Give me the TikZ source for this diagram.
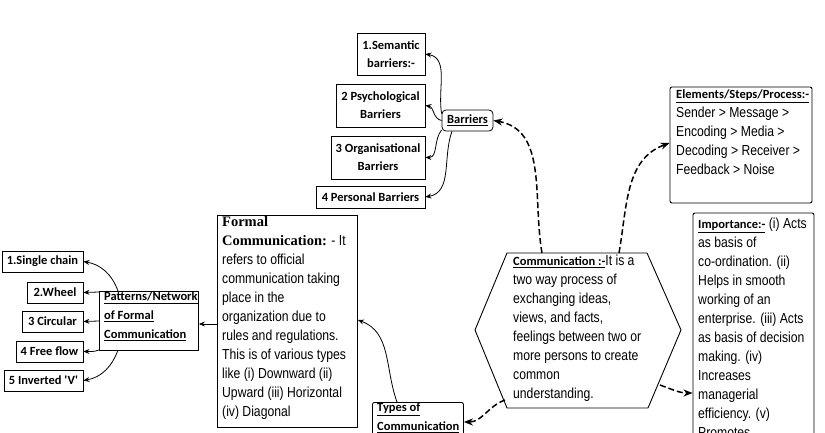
\documentclass[tikz,border=0pt]{standalone}
\usepackage{fontspec}
\setmainfont{Liberation Sans}[FakeStretch=0.84]
\newfontfamily\lbl{Carlito}
\newfontfamily\ser{Liberation Serif}
\usetikzlibrary{arrows.meta}
\begin{document}
\begin{tikzpicture}[x=1pt,y=-1pt,
  lab/.style={draw,line width=0.8pt,font=\lbl\bfseries\fontsize{12.5}{18}\selectfont,align=center,inner sep=1pt},
  body/.style={font=\fontsize{14.5}{19}\selectfont,align=left,anchor=north west,inner sep=0pt},
  hd/.style={font=\lbl\bfseries\fontsize{12.5}{19}\selectfont},
  sol/.style={-{Stealth[length=6pt,width=5pt]},line width=0.8pt},
  dsh/.style={-{Stealth[length=9pt,width=7pt]},line width=1.5pt,dash pattern=on 6pt off 3pt}]
\useasboundingbox (0,0) rectangle (825,433);
\clip (0,0) rectangle (825,433);
% barriers
\node[lab,minimum width=68,minimum height=42] (sem) at (391,54) {1.Semantic\\barriers:-};
\node[lab,minimum width=89,minimum height=43] (psy) at (380.5,105.5) {2 Psychological\\Barriers};
\node[lab,minimum width=94,minimum height=43] (org) at (378,157.5) {3 Organisational\\Barriers};
\node[lab,minimum width=109,minimum height=22] (per) at (370.5,197) {4 Personal Barriers};
\node[lab,rounded corners=4pt,minimum width=51,minimum height=21] (bar) at (467.5,120.5) {\underline{Barriers}};
\draw[sol] (bar.165) to[out=100,in=-10] (sem.east);
\draw[sol] (bar.west) to[out=170,in=-10] (psy.east);
\draw[sol] (bar.200) to[out=230,in=0] (org.east);
\draw[sol] (bar.215) to[out=250,in=10] (per.east);
% elements
\node[draw,line width=0.9pt,rounded corners=2pt,minimum width=142,minimum height=116] (ele) at (741,145) {};
\node[body] (elet) at (676,90) {{\lbl\bfseries\fontsize{12.5}{19}\selectfont\underline{Elements/Steps/Process:-}}\\Sender > Message >\\Encoding > Media >\\Decoding > Receiver >\\Feedback > Noise};
% importance
\node[draw,line width=0.9pt,rounded corners=2pt,minimum width=121,minimum height=240] (imp) at (753.5,333) {};
\node[body] (impt) at (698,218) {{\lbl\bfseries\fontsize{12.5}{19}\selectfont\underline{Importance:-}} (i) Acts\\as basis of\\co-ordination. (ii)\\Helps in smooth\\working of an\\enterprise. (iii) Acts\\as basis of decision\\making. (iv)\\Increases\\managerial\\efficiency. (v)\\Promotes};
% hexagon
\coordinate (h1) at (507,253);\coordinate (h2) at (647,253);\coordinate (h3) at (681,330);
\coordinate (h4) at (648,408);\coordinate (h5) at (507,408);\coordinate (h6) at (475,330);
\draw[line width=0.9pt] (h1)--(h2)--(h3)--(h4)--(h5)--(h6)--cycle;
\node[body] (com) at (513,255) {{\lbl\bfseries\fontsize{12.5}{19}\selectfont\underline{Communication :-}}It is a\\two way process of\\exchanging ideas,\\views, and facts,\\feelings between two or\\more persons to create\\common\\understanding.};
\coordinate (ht1) at (542,253);\coordinate (ht2) at (619,253);
\coordinate (hr) at (660,385);\coordinate (hl) at (505,400);
\draw[dsh] (ht1) to[out=100,in=-10] (bar.east);
\draw[dsh] (ht2) to[out=80,in=200] (ele.west |- 0,143);
\draw[dsh] (hr) to[out=-20,in=180] (imp.west |- 0,393);
% types
\node[draw,line width=0.9pt,rounded corners=2pt,minimum width=91,minimum height=40,anchor=north west] (typ) at (372,402) {};
\node[body,hd] (typt) at (377,403) {\underline{Types of}\\\underline{Communication}};
\draw[dsh] (hl) to[out=200,in=0] (typ.east |- 0,422);
% formal
\node[draw,line width=0.9pt,minimum width=140,minimum height=212,anchor=north west] (for) at (217,215) {};
\node[body] (fort) at (222,216) {{\ser\bfseries Formal}\\{\ser\bfseries Communication:} - It\\refers to official\\communication taking\\place in the\\organization due to\\rules and regulations.\\This is of various types\\like (i) Downward (ii)\\Upward (iii) Horizontal\\(iv) Diagonal};
\draw[sol] (typ.north west) ++(25,0) coordinate (tt) to[out=110,in=-20] (for.east |- 0,320);
% patterns
\node[draw,line width=0.9pt,minimum width=99,minimum height=59,anchor=north west] (pat) at (99,291) {};
\node[body,hd] (patt) at (104,292) {\underline{Patterns/Network}\\\underline{of Formal}\\\underline{Communication}};
\draw[sol] (for.west |- 0,324) -- (pat.east |- 0,324);
\node[lab,minimum width=81,minimum height=21] (s1) at (42.5,261.5) {1.Single chain};
\node[lab,minimum width=56,minimum height=21] (s2) at (55,292.5) {2.Wheel};
\node[lab,minimum width=61,minimum height=21] (s3) at (52.5,321.5) {3 Circular};
\node[lab,minimum width=67,minimum height=21] (s4) at (49.5,351.5) {4 Free flow};
\node[lab,minimum width=79,minimum height=21] (s5) at (43.5,380.5) {5 Inverted 'V'};
\draw[sol] (118,291) to[out=110,in=-10] (s1.east);
\draw[sol] (pat.west |- 0,292) -- (s2.east);
\draw[sol] (pat.west |- 0,321) -- (s3.east);
\draw[sol] (pat.west |- 0,350) to[out=200,in=0] (s4.east);
\draw[sol] (118,350) to[out=250,in=10] (s5.east);
\end{tikzpicture}
\end{document}
